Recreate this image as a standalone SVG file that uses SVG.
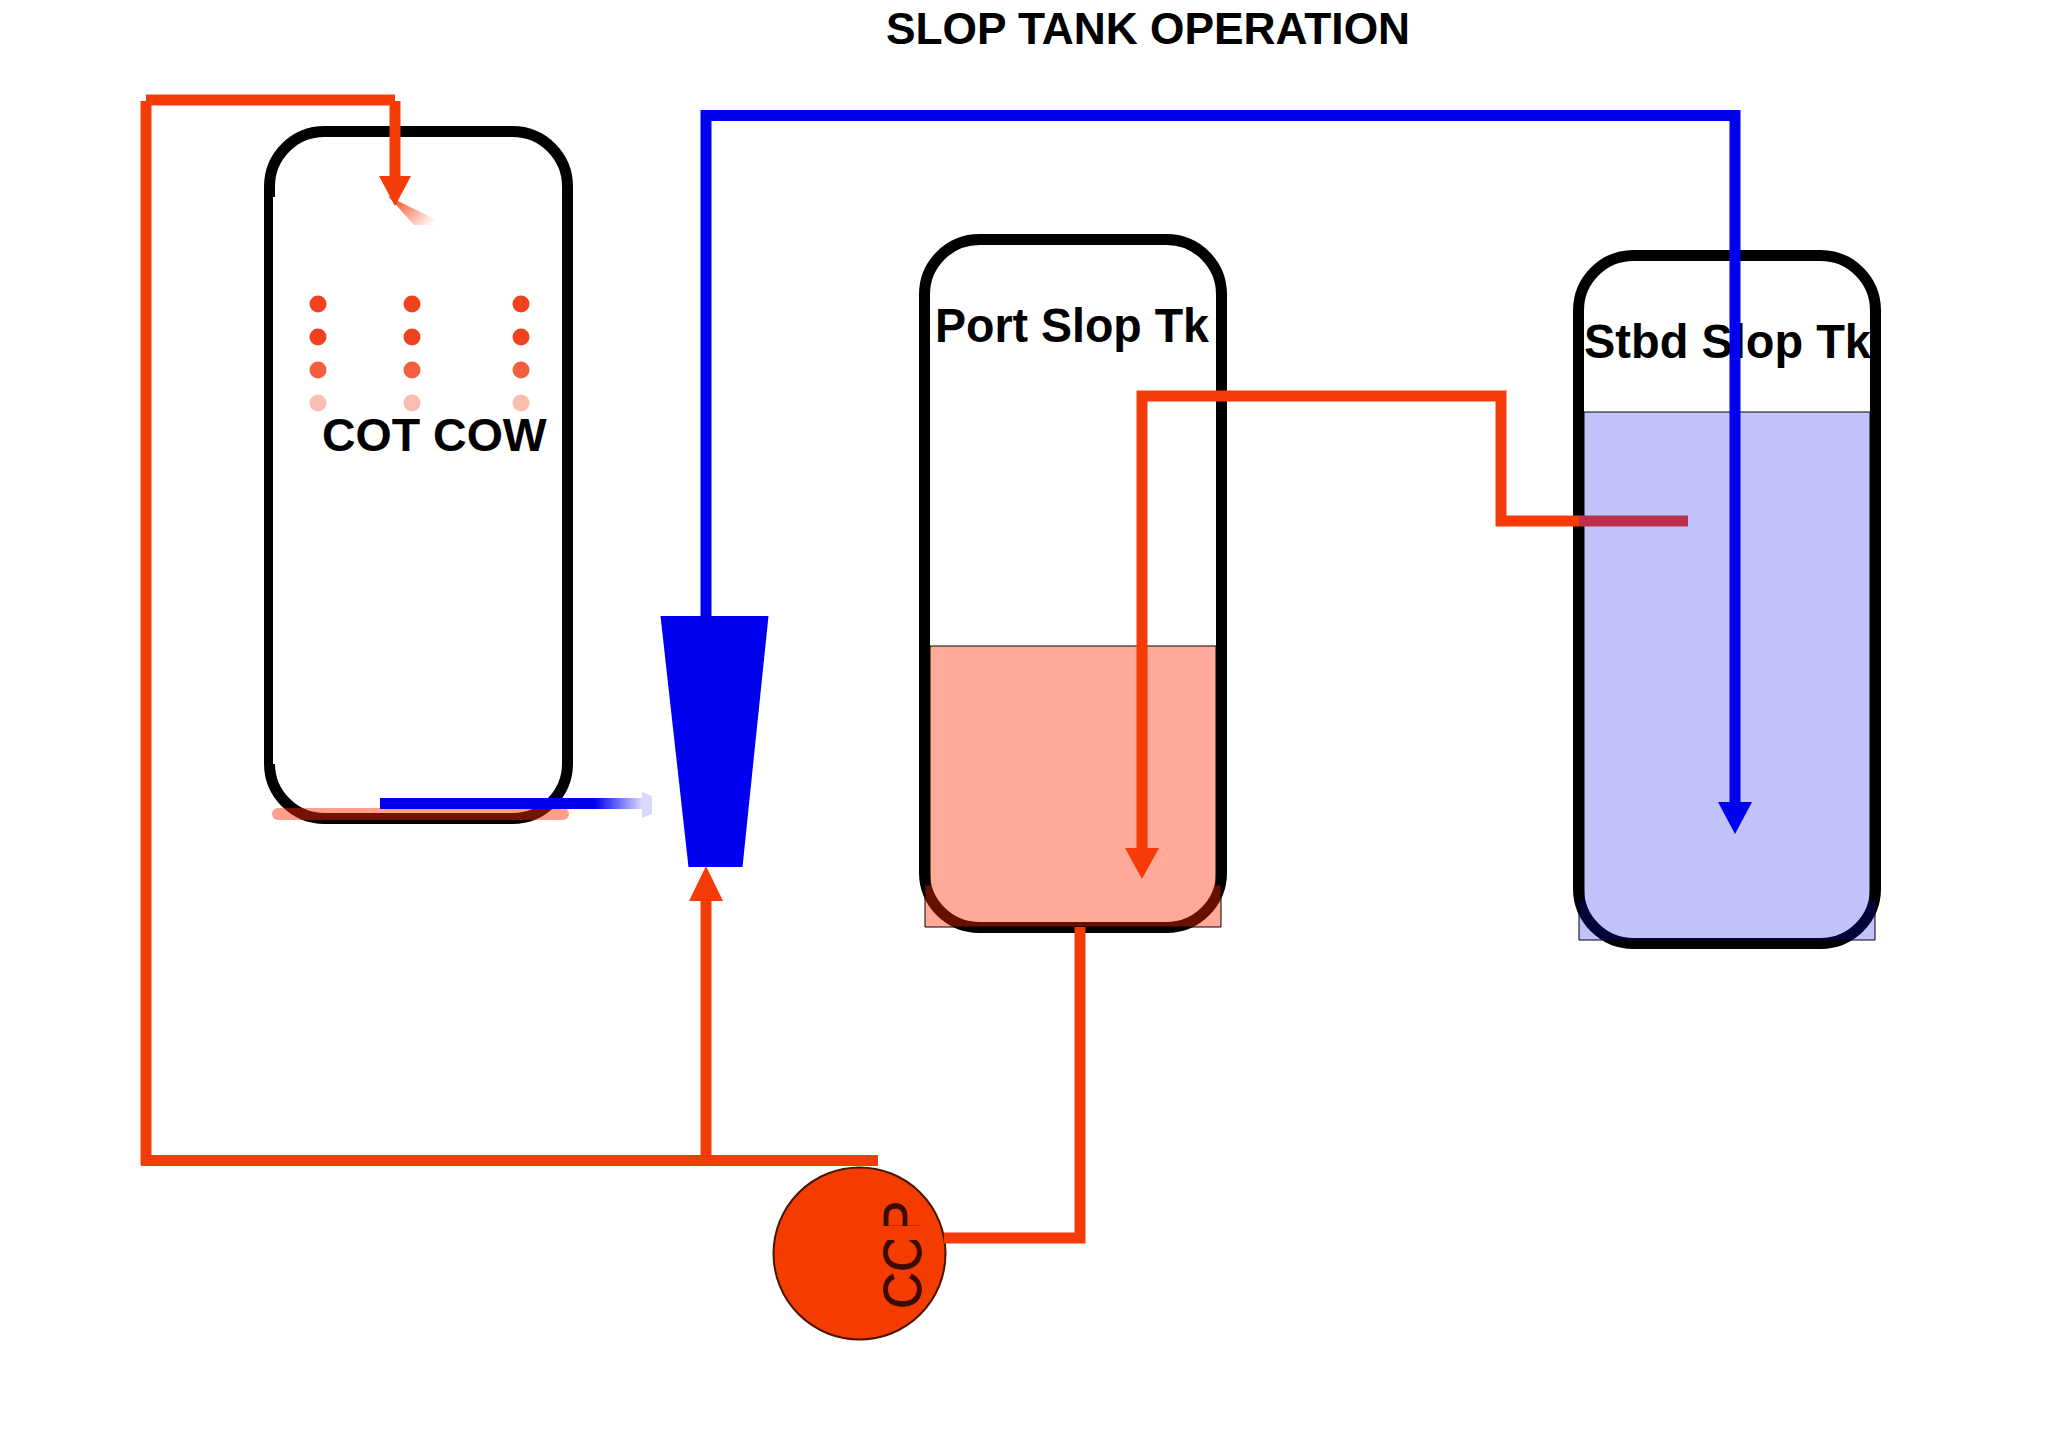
<svg xmlns="http://www.w3.org/2000/svg" width="2048" height="1448" viewBox="0 0 2048 1448">
<style>
text{font-family:"Liberation Sans",Arial,sans-serif;font-weight:bold;fill:#000}
.tank{fill:none;stroke:#000;stroke-width:11}
.red{fill:none;stroke:#f53c08;stroke-width:11;stroke-linecap:butt}
.blue{fill:none;stroke:#0000f0;stroke-width:11}
.dot{fill:#f0421c}
</style>
<defs>
<linearGradient id="fade" x1="0" x2="1" y1="0" y2="0"><stop offset="0" stop-color="#0000f0"/><stop offset="0.82" stop-color="#0000f0"/><stop offset="1" stop-color="#0000f0" stop-opacity="0.15"/></linearGradient>
<linearGradient id="tail" x1="0" x2="1" y1="0" y2="0.5"><stop offset="0" stop-color="#f53c08"/><stop offset="1" stop-color="#f53c08" stop-opacity="0"/></linearGradient>
</defs>
<rect width="2048" height="1448" fill="#fff"/>
<text id="title" x="1148" y="44" font-size="44.300" text-anchor="middle">SLOP TANK OPERATION</text>
<g id="cot-tank">
<rect class="tank" x="269.500" y="131.500" width="298" height="687" rx="55"/>
<rect x="273" y="197" width="2" height="567" fill="#fff"/>
<rect x="272" y="808" width="297" height="12" rx="6" fill="#ff2a00" fill-opacity=".45"/>
<g class="dots">
<circle class="dot" cx="318" cy="304" r="8.500"/><circle class="dot" cx="412" cy="304" r="8.500"/><circle class="dot" cx="521" cy="304" r="8.500"/>
<circle class="dot" cx="318" cy="337" r="8.500"/><circle class="dot" cx="412" cy="337" r="8.500"/><circle class="dot" cx="521" cy="337" r="8.500"/>
<circle class="dot" cx="318" cy="370" r="8.500" opacity=".85"/><circle class="dot" cx="412" cy="370" r="8.500" opacity=".85"/><circle class="dot" cx="521" cy="370" r="8.500" opacity=".85"/>
<circle class="dot" cx="318" cy="403" r="8.500" opacity=".35"/><circle class="dot" cx="412" cy="403" r="8.500" opacity=".35"/><circle class="dot" cx="521" cy="403" r="8.500" opacity=".35"/>
</g>
<text x="322" y="451" font-size="46.500">COT COW</text>
</g>
<g id="port-slop-tank">
<rect class="tank" x="924.500" y="239.500" width="297" height="688" rx="55"/>
<path d="M930 646H1216V885H1221V927H925V885H930Z" fill="#ff2a00" fill-opacity=".4" stroke="#000" stroke-width="1"/>
<text x="935" y="342" font-size="49" textLength="274" lengthAdjust="spacingAndGlyphs">Port Slop Tk</text>
</g>
<g id="stbd-slop-tank">
<rect class="tank" x="1578.500" y="255.500" width="297" height="688" rx="55"/>
<path d="M1584 412H1870V900H1875V940H1579V900H1584Z" fill="#0b0beb" fill-opacity=".25" stroke="#000" stroke-width="1"/>
<text x="1584" y="358" font-size="49" textLength="287" lengthAdjust="spacingAndGlyphs">Stbd Slop Tk</text>
</g>
<g id="eductor"><polygon points="660.500,616 768.500,616 742.500,867 688.500,867" fill="#0000f0"/></g>
<g id="ccp-pump">
<circle cx="859.500" cy="1253.500" r="86" fill="#f53c00" stroke="#4a1400" stroke-width="2"/>
<text transform="translate(921 1309) rotate(-90)" font-size="54" textLength="108" lengthAdjust="spacingAndGlyphs" style="font-weight:normal;fill:#3a0c00;stroke:#3a0c00;stroke-width:.8">CCP</text>
<rect x="880" y="1226" width="44" height="14" fill="#f53c00"/>
</g>
<g id="connectors">
<path class="red" d="M146 1165V101"/>
<path class="red" d="M146 100H395"/>
<path class="red" d="M395 101V180"/>
<polygon points="379,176 411,176 395,206" fill="#f53c08"/>
<polygon points="388,196 402,203 447,225 414,225" fill="url(#tail)"/>
<path class="red" d="M141 1160.500H878"/>
<path class="red" d="M706 1160V895"/>
<polygon points="706,866 689,901 723,901" fill="#f53c08"/>
<path class="blue" d="M706 616V115.500H1735V805"/>
<polygon points="1718,802 1752,802 1735,834" fill="#0000f0"/>
<rect x="380" y="798" width="262" height="11" fill="url(#fade)"/>
<polygon points="642,792 652,796 652,814 642,818" fill="#0000f0" opacity=".15"/>
<path class="red" d="M1080 927V1238H944"/>
<path class="red" d="M1142 850V396H1501V521H1579"/>
<path d="M1579 521H1688" fill="none" stroke="#b8304a" stroke-width="11"/>
<polygon points="1125,848 1159,848 1142,879" fill="#f53c08"/>
</g>
</svg>
